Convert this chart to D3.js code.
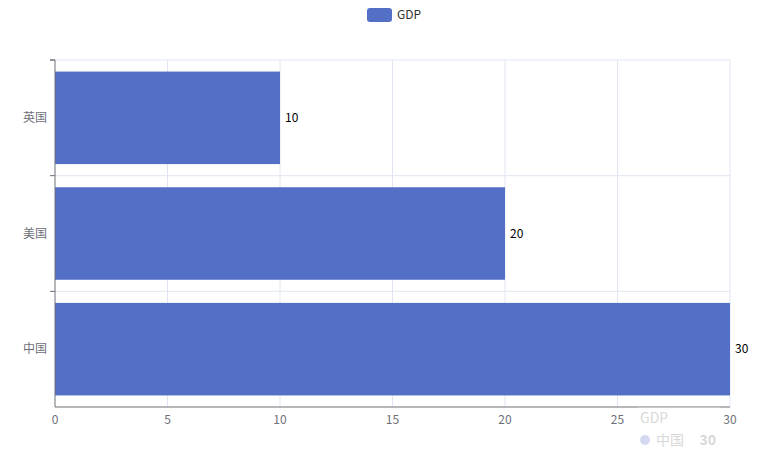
<!DOCTYPE html>
<html><head><meta charset="utf-8">
<script src="https://cdn.jsdelivr.net/npm/d3@7"></script>
<style>body{margin:0;background:#fff}text{font-family:"Microsoft YaHei","Noto Sans CJK SC",sans-serif}</style>
</head><body><svg id="c" width="770" height="462"></svg>
<script>
const categories = ["中国","美国","英国"];
const values = [30,20,10];
const xTicks = [0,5,10,15,20,25,30];
const seriesName = "GDP";

const svg = d3.select("#c");
const L=55,R=730,T=60,B=407;
const x = d3.scaleLinear().domain([0,30]).range([L,R]);
const y = d3.scaleBand().domain(categories).range([B,T]);
const color="#5470c6";

// grid
svg.append("g").selectAll("line").data(xTicks.slice(1)).join("line")
 .attr("x1",d=>x(d)).attr("x2",d=>x(d)).attr("y1",T).attr("y2",B).attr("stroke","#e0e6f1");
svg.append("g").selectAll("line").data(categories).join("line")
 .attr("x1",L).attr("x2",R).attr("y1",d=>y(d)).attr("y2",d=>y(d)).attr("stroke","#e0e6f1");

// bars
const bh=y.bandwidth()*0.8, off=y.bandwidth()*0.1;
svg.append("g").selectAll("rect").data(categories).join("rect")
 .attr("x",L).attr("y",d=>y(d)+off).attr("height",bh)
 .attr("width",(d,i)=>x(values[i])-L).attr("fill",color);
svg.append("g").selectAll("text").data(categories).join("text")
 .attr("x",(d,i)=>x(values[i])+5).attr("y",d=>y(d)+y.bandwidth()/2+4)
 .attr("font-size",12).attr("fill","#000").text((d,i)=>values[i]);

// x axis
const xa=svg.append("g");
xa.append("line").attr("x1",L).attr("x2",R).attr("y1",B).attr("y2",B).attr("stroke","#6e7079");
xa.selectAll("text").data(xTicks).join("text").attr("x",d=>x(d)).attr("y",B+17)
 .attr("text-anchor","middle").attr("font-size",12).attr("fill","#6e7079").text(d=>d);
// y axis
const ya=svg.append("g");
ya.append("line").attr("x1",L).attr("x2",L).attr("y1",T).attr("y2",B).attr("stroke","#6e7079");
ya.selectAll("line.t").data([...categories.map(c=>y(c)),T]).join("line").attr("class","t")
 .attr("x1",L-5).attr("x2",L).attr("y1",d=>d).attr("y2",d=>d).attr("stroke","#6e7079");
ya.selectAll("text").data(categories).join("text").attr("x",L-8).attr("y",d=>y(d)+y.bandwidth()/2+4)
 .attr("text-anchor","end").attr("font-size",12).attr("fill","#6e7079").text(d=>d);

// legend
svg.append("rect").attr("x",367).attr("y",8).attr("width",25).attr("height",14).attr("rx",3).attr("fill",color);
svg.append("text").attr("x",397).attr("y",19).attr("font-size",12).attr("fill","#333").text(seriesName);

// faded tooltip
const tt=svg.append("g").attr("opacity",0.25);
tt.append("rect").attr("x",636).attr("y",407).attr("width",86).attr("height",44).attr("rx",4).attr("fill","#fff");
tt.append("text").attr("x",640).attr("y",423).attr("font-size",14).attr("fill","#666").text(seriesName);
tt.append("circle").attr("cx",645).attr("cy",440).attr("r",5).attr("fill",color);
tt.append("text").attr("x",656).attr("y",445).attr("font-size",14).attr("fill","#666").text(categories[0]);
tt.append("text").attr("x",716).attr("y",445).attr("text-anchor","end").attr("font-size",14).attr("font-weight","bold").attr("fill","#666").text(values[0]);
</script></body></html>
